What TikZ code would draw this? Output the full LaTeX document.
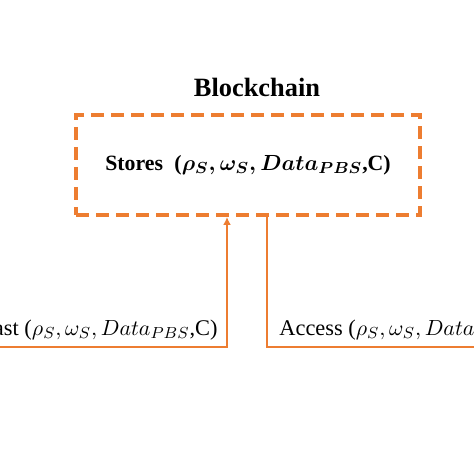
\documentclass[tikz,border=0pt]{standalone}
\usepackage{fontspec}
\setmainfont{Liberation Serif}
\usepackage{amsmath,bm}
\usetikzlibrary{arrows.meta,positioning}
\definecolor{chainorange}{RGB}{237,125,49}

\begin{document}
\begin{tikzpicture}[x=0.5pt,y=-0.5pt,
  chainbox/.style={rectangle, draw=chainorange, dash pattern=on 6.5pt off 3.5pt,
                   line width=2pt, minimum width=172pt, minimum height=50pt,
                   font=\fontsize{10.9}{13}\selectfont\bfseries\boldmath},
  link/.style={draw=chainorange, line width=1pt},
  arrow/.style={link, -{Latex[length=4pt,width=4pt]}},
  lbl/.style={font=\fontsize{11.2}{13}\selectfont, inner sep=0pt},
]
\useasboundingbox (0,0) rectangle (474,474);
\clip (0,0) rectangle (474,474);

\node[chainbox] (chain) at (248,165) {Stores\; ($\rho_S, \omega_S, Data_{PBS}$,C)};
\node[font=\fontsize{13.2}{15}\selectfont\bfseries] (title) at (257,87) {Blockchain};

\coordinate (bleft) at (0,347);
\coordinate (bright) at (474,347);
\node[lbl, anchor=base east] (bcast) at (218,335) {ast ($\rho_S, \omega_S, Data_{PBS}$,C)};
\node[lbl, anchor=base west] (access) at (279,335) {Access ($\rho_S, \omega_S, Data_{PBS}$,C)};

\draw[arrow] (bleft) -| ([xshift=-10.5pt]chain.south);
\draw[link] ([xshift=9.5pt]chain.south) |- (bright);

\end{tikzpicture}
\end{document}
